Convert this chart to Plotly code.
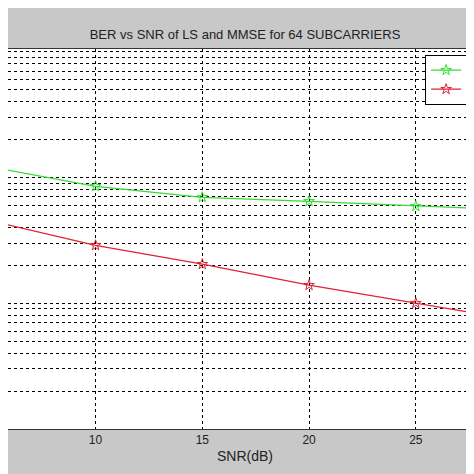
import plotly.graph_objects as go
import numpy as np

snr = [0, 5, 10, 15, 20, 25, 30]
ber_ls = [0.017, 0.0122, 0.00849, 0.00693, 0.00645, 0.00589, 0.00547]
ber_mmse = [0.0068, 0.00456, 0.00288, 0.00204, 0.00139, 0.00100, 0.00072]

# log grid at 1..9 per decade
grid_vals = [k * 10.0**d for d in range(-4, -1) for k in range(1, 10)] + [0.1]

fig = go.Figure()
fig.add_trace(go.Scatter(x=snr, y=ber_ls, name="ls", mode="lines+markers",
                         line=dict(color="#33dd33", width=1.2),
                         marker=dict(symbol="star-open", size=8, color="#33dd33")))
fig.add_trace(go.Scatter(x=snr, y=ber_mmse, name="mmse", mode="lines+markers",
                         line=dict(color="#dd2233", width=1.2),
                         marker=dict(symbol="star-open", size=8, color="#dd2233")))

fig.update_layout(
    width=474, height=474,
    paper_bgcolor="#c8c8c8", plot_bgcolor="white",
    margin=dict(l=0, r=0, t=41, b=53, pad=0, autoexpand=False),
    title=dict(text="BER vs SNR of LS and MMSE for 64 SUBCARRIERS", x=0.5, y=0.945,
               xanchor="center", yanchor="middle",
               font=dict(family="Arial", size=13, color="#222")),
    font=dict(family="Arial", size=12, color="#222"),
    legend=dict(x=0.88, y=0.985, xanchor="left", yanchor="top",
                bgcolor="white", bordercolor="black", borderwidth=1,
                font=dict(size=12)),
)
fig.update_xaxes(range=[5.9, 28.1], tickvals=[10, 15, 20, 25], ticks="",
                 showgrid=True, gridcolor="black", griddash="dot", gridwidth=1,
                 showline=True, linecolor="#333", mirror=True, zeroline=False,
                 automargin=False,
                 title=dict(text="SNR(dB)", standoff=4))
fig.update_yaxes(type="log", range=[-4, -0.98], tickvals=grid_vals,
                 showticklabels=False, ticks="", automargin=False,
                 showgrid=True, gridcolor="black", griddash="dot", gridwidth=1,
                 showline=True, linecolor="#333", mirror=True, zeroline=False)

fig.write_html("out.html")
